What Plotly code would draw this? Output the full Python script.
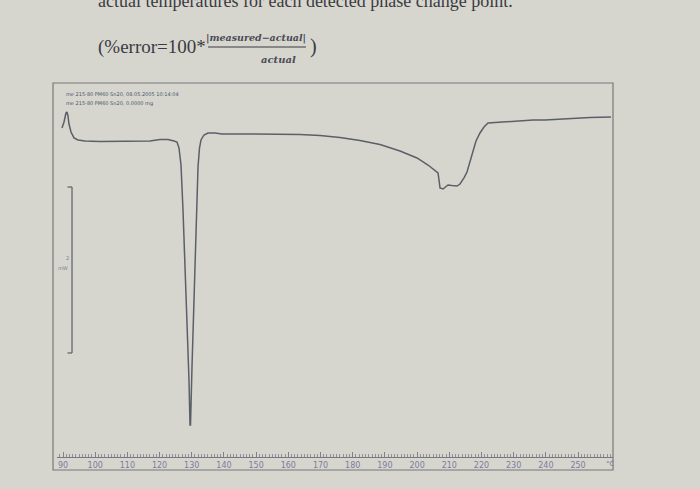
import plotly.graph_objects as go

# Temperature (°C) and heat flow (mW)
temperature = [89.69, 90.31, 90.93, 91.24, 91.55, 91.86, 92.49, 93.42, 94.66, 96.83,
               101.49, 110.81, 117.03, 120.13, 122.62, 124.48, 125.41, 126.03, 126.66,
               127.28, 127.90, 128.52, 129.14, 129.45, 129.61, 130.07, 130.70, 131.32,
               131.94, 132.40, 132.87, 133.80, 135.04, 137.22, 139.39, 148.09, 157.41,
               163.62, 169.84, 176.05, 182.26, 188.48, 194.69, 199.97, 203.39, 205.25,
               206.50, 206.81, 207.12, 208.05, 209.60, 210.84, 212.40, 213.33, 214.57,
               215.50, 216.43, 217.37, 218.30, 219.54, 220.78, 222.03, 224.20, 227.31,
               229.79, 236.01, 239.74, 245.33, 249.06, 253.72, 260.24]
heat_flow = [0.024, 0.096, 0.205, 0.217, 0.169, 0.072, -0.024, -0.096, -0.120, -0.133,
             -0.139, -0.139, -0.133, -0.114, -0.114, -0.133, -0.145, -0.217, -0.422,
             -0.964, -1.627, -2.289, -3.012, -3.554, -3.554, -2.855, -2.048, -1.241,
             -0.446, -0.217, -0.120, -0.060, -0.036, -0.036, -0.048, -0.048, -0.048,
             -0.054, -0.066, -0.090, -0.127, -0.175, -0.253, -0.337, -0.422, -0.482,
             -0.518, -0.602, -0.699, -0.711, -0.663, -0.669, -0.675, -0.651, -0.578,
             -0.506, -0.386, -0.241, -0.133, -0.036, 0.036, 0.084, 0.090, 0.096,
             0.108, 0.120, 0.120, 0.133, 0.139, 0.151, 0.157]

tick_values = list(range(90, 251, 10))
tick_labels = [str(v) for v in tick_values]

legend_lines = ["me 215-80 PM60 Sn20, 08.05.2005 10:14:04",
                "me 215-80 PM60 Sn20, 0.0000 mg"]

scale_bar_mw = 2
scale_bar_top = -0.687

W, H = 700, 489
L, R, T, B = 57, 87, 84, 32
x_range = [88.136, 260.86]
y_range = [-3.940, 0.554]

def px(xp):
    return (xp - L) / (W - L - R)

def py(yp):
    return (H - B - yp) / (H - T - B)

ink = "#5b6068"
text_col = "#3b3b42"
tick_col = "#7c7c9c"

fig = go.Figure()
fig.add_trace(go.Scatter(x=temperature, y=heat_flow, mode="lines",
                         line=dict(color=ink, width=1.5), hoverinfo="skip"))

shapes = [
    # outer frame
    dict(type="rect", xref="paper", yref="paper", x0=px(53), x1=px(613), y0=py(470), y1=py(83),
         line=dict(color="#77777a", width=1.2)),
    # scale bar (2 mW)
    dict(type="line", xref="x", yref="y", x0=92.8, x1=92.8,
         y0=scale_bar_top, y1=scale_bar_top - scale_bar_mw, line=dict(color=ink, width=1.2)),
    dict(type="line", xref="x", yref="y", x0=91.4, x1=92.8,
         y0=scale_bar_top, y1=scale_bar_top, line=dict(color=ink, width=1.2)),
    dict(type="line", xref="x", yref="y", x0=91.4, x1=92.8,
         y0=scale_bar_top - scale_bar_mw, y1=scale_bar_top - scale_bar_mw, line=dict(color=ink, width=1.2)),
    # fraction line
    dict(type="line", xref="paper", yref="paper", x0=px(208), x1=px(306), y0=py(47), y1=py(47),
         line=dict(color=text_col, width=1)),
]

ann = [
    dict(text="actual temperatures for each detected phase change point.", x=px(96), y=py(1),
         xanchor="left", yanchor="middle", font=dict(family="Liberation Serif", size=18, color=text_col)),
    dict(text="(%error=100*", x=px(96), y=py(47), xanchor="left", yanchor="middle",
         font=dict(family="Liberation Serif", size=19, color=text_col)),
    dict(text="<b><i>|measured−actual|</i></b>", x=px(256), y=py(38), xanchor="center", yanchor="middle",
         font=dict(family="DejaVu Serif", size=9.5, color="#4a4a55")),
    dict(text="<b><i>actual</i></b>", x=px(278), y=py(60), xanchor="center", yanchor="middle",
         font=dict(family="DejaVu Serif", size=10, color="#4a4a55")),
    dict(text=")", x=px(308), y=py(47), xanchor="left", yanchor="middle",
         font=dict(family="Liberation Serif", size=20, color=text_col)),
    dict(text=legend_lines[0], x=px(64), y=py(94), xanchor="left", yanchor="middle",
         font=dict(family="DejaVu Sans", size=5, color="#4c5470")),
    dict(text=legend_lines[1], x=px(64), y=py(103), xanchor="left", yanchor="middle",
         font=dict(family="DejaVu Sans", size=5, color="#4c5470")),
    dict(text=str(scale_bar_mw), xref="x", yref="y", x=91.3, y=-1.54, xanchor="center", yanchor="middle",
         font=dict(family="DejaVu Sans", size=5, color=tick_col)),
    dict(text="mW", xref="x", yref="y", x=89.9, y=-1.66, xanchor="center", yanchor="middle",
         font=dict(family="DejaVu Sans", size=5, color=tick_col)),
    dict(text="°C", x=px(610), y=py(464), xanchor="center", yanchor="middle",
         font=dict(family="DejaVu Sans", size=7, color=tick_col)),
]
for a in ann:
    a.setdefault("xref", "paper")
    a.setdefault("yref", "paper")
    a["showarrow"] = False

fig.update_layout(
    width=W, height=H, margin=dict(l=L, r=R, t=T, b=B),
    paper_bgcolor="#d6d6ce", plot_bgcolor="rgba(0,0,0,0)",
    showlegend=False, shapes=shapes, annotations=ann,
    xaxis=dict(range=x_range, tickvals=tick_values, ticktext=tick_labels,
               ticks="inside", ticklen=5, tickcolor="#808088", tickwidth=1,
               minor=dict(dtick=1, ticks="inside", ticklen=3, tickcolor="#909098"),
               showline=True, linecolor="#77777f", linewidth=1.2, mirror=False,
               showgrid=False, zeroline=False,
               tickfont=dict(family="DejaVu Sans", size=8, color=tick_col)),
    yaxis=dict(range=y_range, visible=False, showgrid=False, zeroline=False),
)

fig.write_html("out.html", config={"displayModeBar": False},
               post_script="document.body.style.margin='0';document.body.style.background='#d6d6ce';")
